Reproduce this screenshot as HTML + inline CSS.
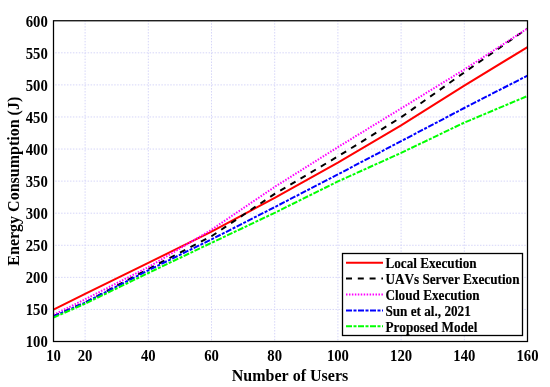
<!DOCTYPE html>
<html><head><meta charset="utf-8"><style>
html,body{margin:0;padding:0;background:#fff;width:550px;height:387px;overflow:hidden}
svg{display:block;font-kerning:none}
text{font-kerning:none}
</style></head><body>
<svg width="550" height="387" viewBox="0 0 550 387">
<rect width="550" height="387" fill="#fff"/>
<g stroke="#d6d6f8" stroke-width="1" stroke-dasharray="1.5 1.45">
<line x1="85.10" y1="20.75" x2="85.10" y2="341.50" stroke-dashoffset="0.5"/>
<line x1="148.30" y1="20.75" x2="148.30" y2="341.50" stroke-dashoffset="0.5"/>
<line x1="211.50" y1="20.75" x2="211.50" y2="341.50" stroke-dashoffset="0.5"/>
<line x1="274.70" y1="20.75" x2="274.70" y2="341.50" stroke-dashoffset="0.5"/>
<line x1="337.90" y1="20.75" x2="337.90" y2="341.50" stroke-dashoffset="0.5"/>
<line x1="401.10" y1="20.75" x2="401.10" y2="341.50" stroke-dashoffset="0.5"/>
<line x1="464.30" y1="20.75" x2="464.30" y2="341.50" stroke-dashoffset="0.5"/>
<line x1="53.50" y1="309.43" x2="527.50" y2="309.43" stroke-dashoffset="1.25"/>
<line x1="53.50" y1="277.35" x2="527.50" y2="277.35" stroke-dashoffset="1.25"/>
<line x1="53.50" y1="245.28" x2="527.50" y2="245.28" stroke-dashoffset="1.25"/>
<line x1="53.50" y1="213.20" x2="527.50" y2="213.20" stroke-dashoffset="1.25"/>
<line x1="53.50" y1="181.12" x2="527.50" y2="181.12" stroke-dashoffset="1.25"/>
<line x1="53.50" y1="149.05" x2="527.50" y2="149.05" stroke-dashoffset="1.25"/>
<line x1="53.50" y1="116.97" x2="527.50" y2="116.97" stroke-dashoffset="1.25"/>
<line x1="53.50" y1="84.90" x2="527.50" y2="84.90" stroke-dashoffset="1.25"/>
<line x1="53.50" y1="52.82" x2="527.50" y2="52.82" stroke-dashoffset="1.25"/>
</g>
<g>
<polyline points="53.50,309.68 85.10,293.77 148.30,262.92 211.50,231.61 274.70,197.80 337.90,162.65 401.10,125.44 464.30,85.67 527.50,47.05" fill="none" stroke="#ff0000" stroke-width="2"/>
<polyline points="53.50,316.10 85.10,302.50 148.30,269.07 211.50,236.23 274.70,193.89 337.90,156.43 401.10,117.30 464.30,72.39 527.50,28.45" fill="none" stroke="#000000" stroke-width="2" stroke-dasharray="6 5.8"/>
<polyline points="53.50,314.88 85.10,299.29 148.30,267.15 211.50,229.69 274.70,186.90 337.90,147.13 401.10,108.44 464.30,69.50 527.50,28.45" fill="none" stroke="#ff00ff" stroke-width="2" stroke-dasharray="1.5 1.45"/>
<polyline points="53.50,316.35 85.10,302.63 148.30,270.29 211.50,239.37 274.70,207.17 337.90,174.39 401.10,141.16 464.30,107.99 527.50,75.60" fill="none" stroke="#0000ff" stroke-width="2" stroke-dasharray="6 1.5 3 1.5"/>
<polyline points="53.50,317.57 85.10,303.72 148.30,272.99 211.50,242.84 274.70,212.82 337.90,181.45 401.10,152.90 464.30,122.62 527.50,96.00" fill="none" stroke="#00ff00" stroke-width="2" stroke-dasharray="6 1.5 3 1.5"/>
</g>
<rect x="53.5" y="20.75" width="474.0" height="320.75" fill="none" stroke="#000" stroke-width="1.25"/>
<g font-family="'Liberation Serif', serif" font-weight="bold" font-size="15.7" fill="#000">
<text transform="translate(47.8,347.45) scale(0.9363,1)" text-anchor="end">100</text>
<text transform="translate(47.8,315.38) scale(0.9363,1)" text-anchor="end">150</text>
<text transform="translate(47.8,283.30) scale(0.9363,1)" text-anchor="end">200</text>
<text transform="translate(47.8,251.22) scale(0.9363,1)" text-anchor="end">250</text>
<text transform="translate(47.8,219.15) scale(0.9363,1)" text-anchor="end">300</text>
<text transform="translate(47.8,187.07) scale(0.9363,1)" text-anchor="end">350</text>
<text transform="translate(47.8,155.00) scale(0.9363,1)" text-anchor="end">400</text>
<text transform="translate(47.8,122.92) scale(0.9363,1)" text-anchor="end">450</text>
<text transform="translate(47.8,90.85) scale(0.9363,1)" text-anchor="end">500</text>
<text transform="translate(47.8,58.77) scale(0.9363,1)" text-anchor="end">550</text>
<text transform="translate(47.8,26.70) scale(0.9363,1)" text-anchor="end">600</text>
<text transform="translate(53.50,361.4) scale(0.9363,1)" text-anchor="middle">10</text>
<text transform="translate(85.10,361.4) scale(0.9363,1)" text-anchor="middle">20</text>
<text transform="translate(148.30,361.4) scale(0.9363,1)" text-anchor="middle">40</text>
<text transform="translate(211.50,361.4) scale(0.9363,1)" text-anchor="middle">60</text>
<text transform="translate(274.70,361.4) scale(0.9363,1)" text-anchor="middle">80</text>
<text transform="translate(337.90,361.4) scale(0.9363,1)" text-anchor="middle">100</text>
<text transform="translate(401.10,361.4) scale(0.9363,1)" text-anchor="middle">120</text>
<text transform="translate(464.30,361.4) scale(0.9363,1)" text-anchor="middle">140</text>
<text transform="translate(527.50,361.4) scale(0.9363,1)" text-anchor="middle">160</text>
</g>
<text x="290" y="380.5" text-anchor="middle" font-family="'Liberation Serif', serif" font-weight="bold" font-size="16">Number of Users</text>
<text transform="translate(18.7,181.2) rotate(-90)" text-anchor="middle" font-family="'Liberation Serif', serif" font-weight="bold" font-size="16">Energy Consumption (J)</text>
<g font-family="'Liberation Serif', serif" font-weight="bold" font-size="14.8" fill="#000" stroke="#000" stroke-width="0.15">
<rect x="342.5" y="253.5" width="180.0" height="82.0" fill="#fff" stroke="#000" stroke-width="1.3"/>
<line x1="346" y1="262.70" x2="383" y2="262.70" stroke="#ff0000" stroke-width="2"/>
<text transform="translate(385.4,267.90) scale(0.8918918918918918,1)">Local Execution</text>
<line x1="346" y1="278.60" x2="383" y2="278.60" stroke="#000000" stroke-width="2" stroke-dasharray="6 5.8"/>
<text transform="translate(385.4,283.80) scale(0.8918918918918918,1)">UAVs Server Execution</text>
<line x1="346" y1="294.50" x2="383" y2="294.50" stroke="#ff00ff" stroke-width="2" stroke-dasharray="1.5 1.45"/>
<text transform="translate(385.4,299.70) scale(0.8918918918918918,1)">Cloud Execution</text>
<line x1="346" y1="310.40" x2="383" y2="310.40" stroke="#0000ff" stroke-width="2" stroke-dasharray="6 1.5 3 1.5"/>
<text transform="translate(385.4,315.60) scale(0.8918918918918918,1)">Sun et al., 2021</text>
<line x1="346" y1="326.30" x2="383" y2="326.30" stroke="#00ff00" stroke-width="2" stroke-dasharray="6 1.5 3 1.5"/>
<text transform="translate(385.4,331.50) scale(0.8918918918918918,1)">Proposed Model</text>
</g>
</svg>
</body></html>
